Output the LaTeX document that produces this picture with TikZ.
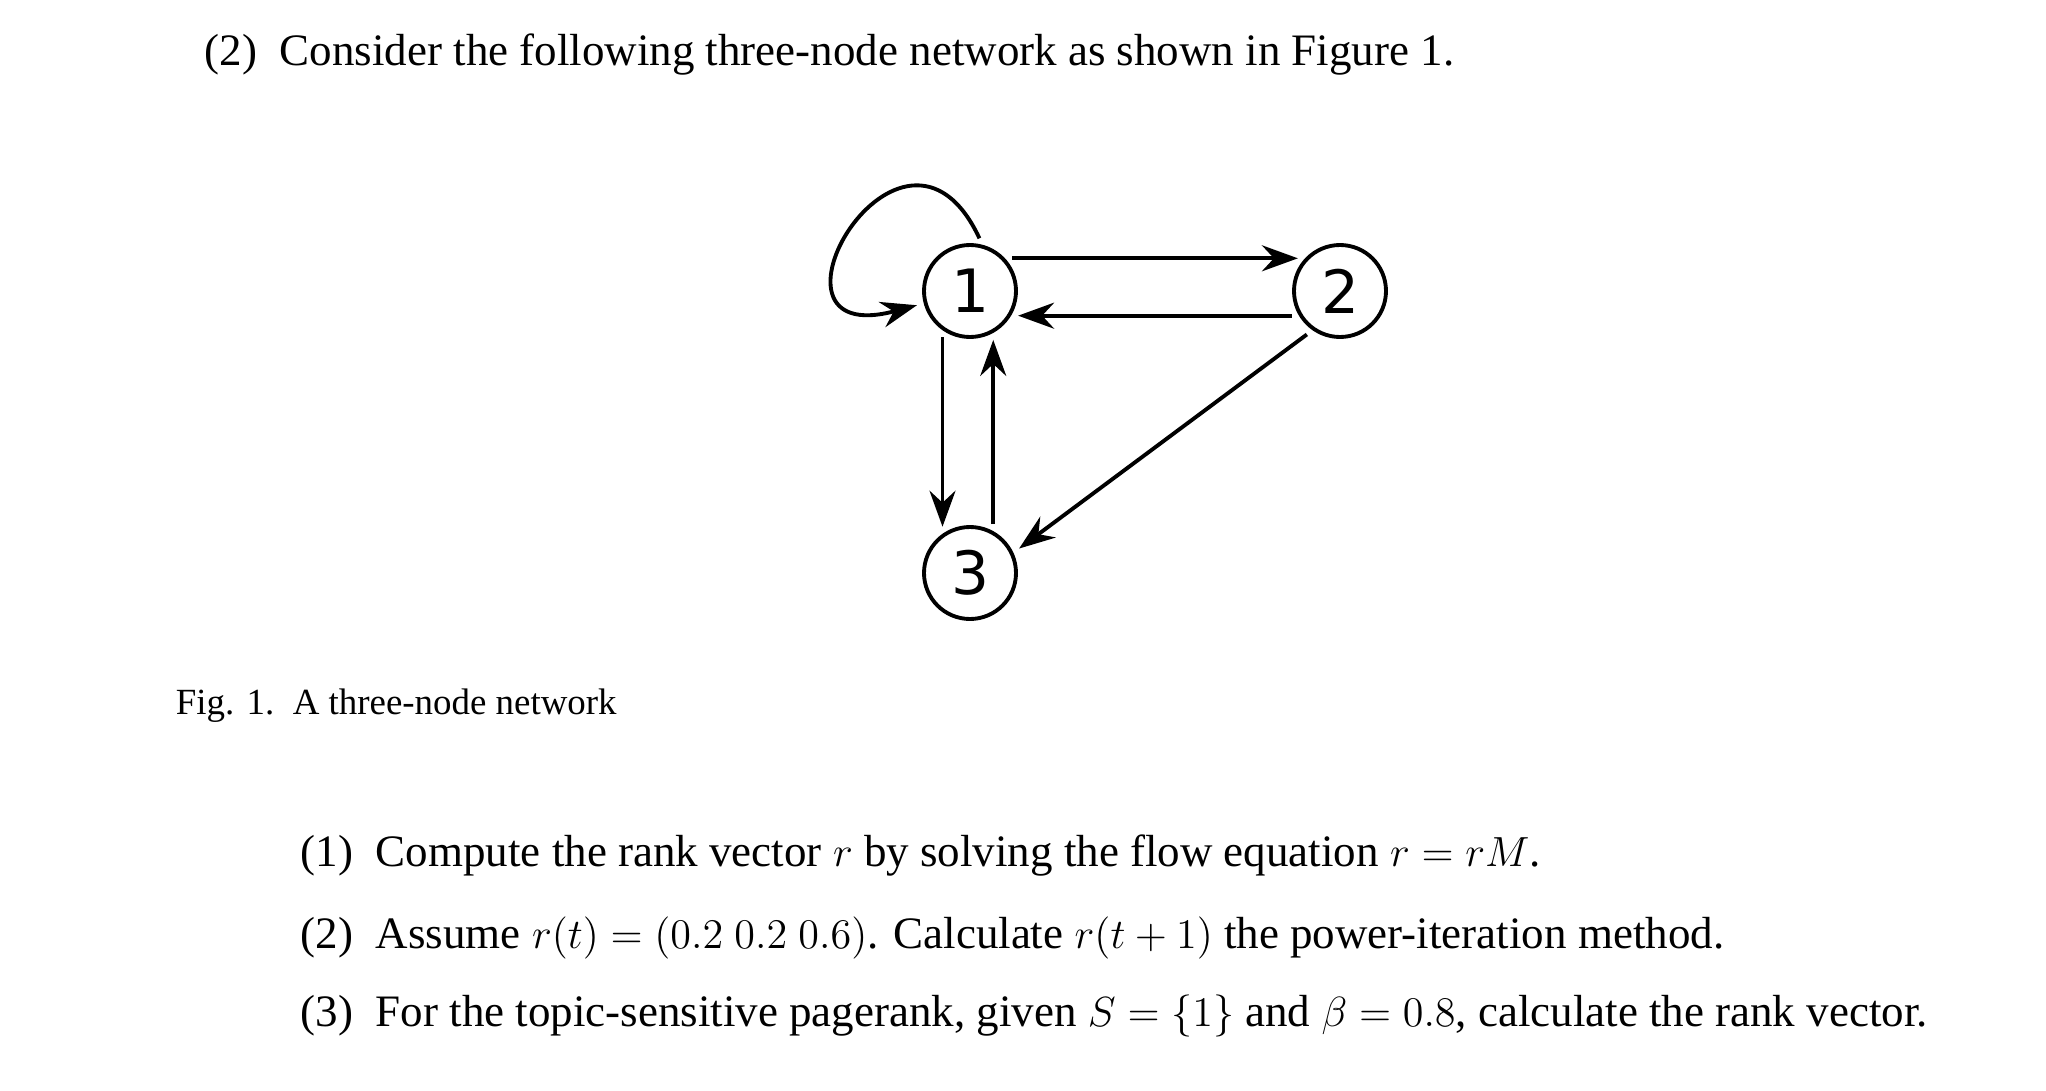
\documentclass[tikz,border=0pt]{standalone}
\usepackage{fontspec}
\setmainfont{Liberation Serif}
\newfontfamily\nodefont{DejaVu Sans}
\usetikzlibrary{arrows.meta}
\begin{document}
\begin{tikzpicture}[->,>={Stealth[length=3.6mm,width=2.6mm,inset=1.2mm]},shorten >=2pt,shorten <=2pt,line width=1.1pt,main node/.style={circle,draw,minimum size=0.92cm,inner sep=0pt,font=\nodefont\fontsize{17}{20}\selectfont},txt/.style={anchor=west,inner sep=0pt,font=\fontsize{12.8}{15}\selectfont}]
  \useasboundingbox (0,0) rectangle (20.46,10.9);
  \node[main node] (1) at (9.70,7.99) {1};
  \node[main node] (2) at (13.40,7.99) {2};
  \node[main node] (3) at (9.70,5.17) {3};

\path
  (1.43) edge (2.137)
  (2.211) edge (1.-31)
  (1.-125) edge (3.125)
  (3.61) edge (1.-61)
  (2.-125) edge (3.25)
  (1.75) edge[out=115,in=195,looseness=1,min distance=1.9cm] (1.195)
;
  \node[txt] (q) at (2.03,10.35) {(2)\ \ Consider the following three-node network as shown in Figure 1.};
  \node[txt,font=\fontsize{10.5}{13}\selectfont] (cap) at (1.74,3.84) {Fig. 1.\ \ A three-node network};
  \node[txt] (a) at (2.99,2.34) {(1)\ \ Compute the rank vector $r$ by solving the flow equation $r = rM$.};
  \node[txt] (b) at (2.99,1.52) {(2)\ \ Assume $r(t) = (0.2\ 0.2\ 0.6)$. Calculate $r(t+1)$ the power-iteration method.};
  \node[txt] (c) at (2.99,0.74) {(3)\ \ For the topic-sensitive pagerank, given $S = \{1\}$ and $\beta = 0.8$, calculate the rank vector.};
\end{tikzpicture}
\end{document}
